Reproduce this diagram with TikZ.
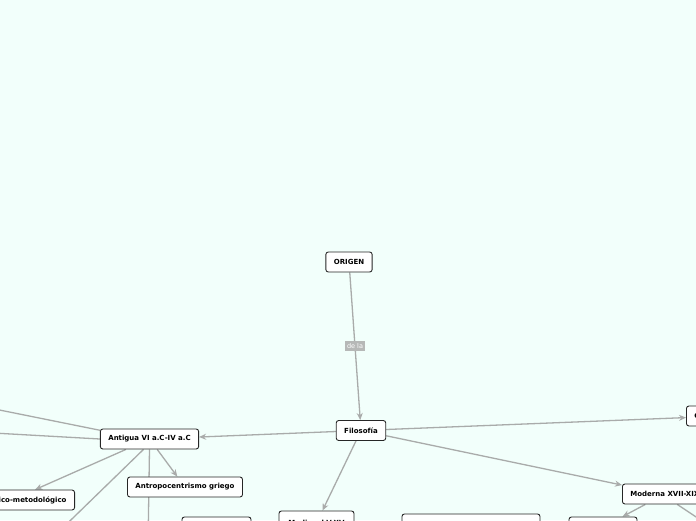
\documentclass[tikz,border=0pt]{standalone}
\usepackage{fontspec}
\setmainfont{DejaVu Sans}
\usetikzlibrary{arrows.meta,backgrounds}
\definecolor{fondo}{HTML}{F2FFFB}
\definecolor{linea}{HTML}{A9ABAA}
\tikzstyle{tema} = [draw=black!85, fill=white, line width=0.9pt,
    rectangle, rounded corners=2.5pt, inner xsep=8pt, minimum height=20pt,
    font=\bfseries\fontsize{7}{8}\selectfont]
\tikzstyle{enlace} = [draw=linea, line width=1.3pt, -{Stealth[length=7pt,width=6pt]}]
\tikzstyle{libre} = [draw=linea, line width=1.3pt]
\tikzstyle{etiqueta} = [fill=linea!85, text=white, inner sep=2.5pt,
    font=\fontsize{6.5}{7}\selectfont]

\begin{document}
\begin{tikzpicture}[x=1pt,y=-1pt]
                \useasboundingbox (0,0) rectangle (696,520);
                % temas
                \node [tema] (origen) at (349,262) {ORIGEN};
                \node [tema] (filosofia) at (361,430.5) {Filosofía};
                \node [tema] (antigua) at (149.5,439) {Antigua VI a.C-IV a.C};
                \node [tema] (antropo) at (185,487) {Antropocentrismo griego};
                \node [tema, anchor=east, text width=110pt, align=right] (metodo) at (75,500) {ico-metodológico};
                \node [tema, minimum width=69pt] (griego) at (216.5,527) {};
                \node [tema, minimum width=75pt, minimum height=24pt] (medieval) at (316.5,523) {Medieval V-XV};
                \node [tema, minimum width=138pt] (central) at (471,524) {};
                \node [tema, anchor=west] (moderna) at (622,494) {Moderna XVII-XIX};
                \node [tema, minimum width=68pt] (racional) at (603,527) {};
                \node [tema, anchor=west] (contemp) at (686,416) {Contemporánea};
                % extremos fuera del cuadro
                \coordinate (fueraA) at (-60,398);
                \coordinate (fueraB) at (-60,430);
                \coordinate (fueraC) at (40,550);
                \coordinate (fueraD) at (148,545);
                \coordinate (fueraE) at (720,533);
                % enlaces
                \begin{scope}[on background layer]
                \fill[fondo] (0,0) rectangle (696,520);
                \draw [enlace] (origen) -- node[etiqueta] {de la} (filosofia);
                \draw [enlace] (filosofia) -- (antigua);
                \draw [enlace] (filosofia) -- (contemp);
                \draw [enlace] (filosofia) -- (moderna);
                \draw [enlace] (filosofia) -- (medieval);
                \draw [enlace] (antigua) -- (metodo);
                \draw [enlace] (antigua) -- (antropo);
                \draw [enlace] (moderna) -- (racional);
                \draw [libre] (antigua.170) -- (fueraA);
                \draw [libre] (antigua.west) -- (fueraB);
                \draw [libre] (antigua.240) -- (fueraC);
                \draw [libre] (antigua.south) -- (fueraD);
                \draw [libre] (moderna.320) -- (fueraE);
                \end{scope}
            \end{tikzpicture}
\end{document}
